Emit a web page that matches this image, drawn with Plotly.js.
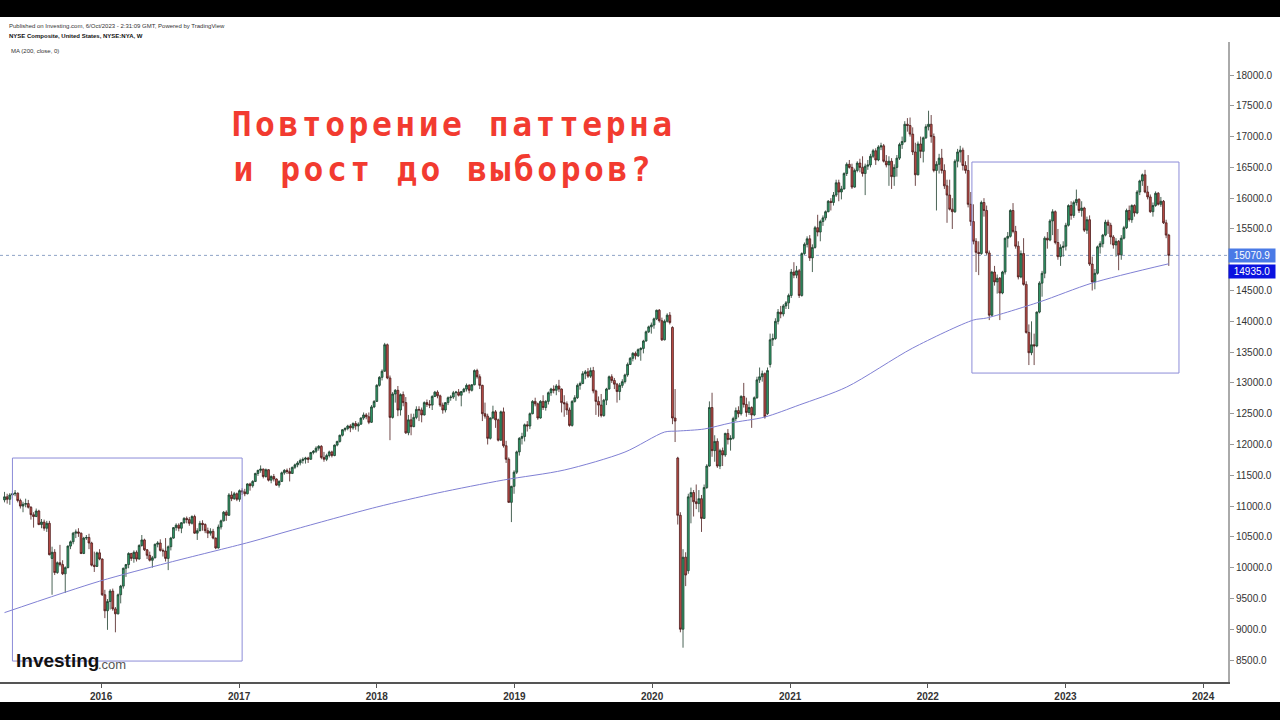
<!DOCTYPE html>
<html>
<head>
<meta charset="utf-8">
<script src="https://cdn.plot.ly/plotly-3.0.1.min.js"></script>
<style>
  html, body { margin: 0; padding: 0; background: #000; width: 1280px; height: 720px; overflow: hidden; }
  #chart { position: absolute; left: 0; top: 17px; width: 1280px; height: 685px; background: #fff; }
  .annotation[data-index="0"] text, .annotation[data-index="1"] text { letter-spacing: 3.5px; }
</style>
</head>
<body>
<div id="chart"></div>
<script>
// Weekly NYSE Composite (NYSE:NYA, W) candles, first week starting 2015-04-20
const firstWeek = '2015-04-20';

const open = [
// 2015
11100,11150,11110,11180,11200,11210,11090,11000,11030,11040,10980,10860,10830,10920,10700,10740,10640,10720,10150,10250,9920,10080,10050,9900,10000,10350,10420,10560,10580,10560,10230,10480,10490,10400,10040,10020,10240,
// 2016
10140,9560,9300,9450,9620,9330,9250,9560,9700,9990,10050,10230,10150,10250,10140,10360,10450,10290,10200,10120,10160,10380,10400,10280,10270,10150,10340,10480,10650,10690,10640,10730,10800,10780,10720,10830,10560,10600,10720,10700,10600,10560,10590,10480,10320,10660,10760,10900,10850,11180,11120,11200,
// 2017
11110,11250,11230,11200,11360,11330,11400,11530,11580,11600,11480,11590,11420,11480,11440,11340,11400,11540,11580,11560,11530,11630,11670,11700,11740,11760,11780,11760,11870,11890,11940,11970,11790,11760,11820,11880,11820,11990,12050,12150,12240,12260,12300,12270,12340,12300,12330,12430,12480,12450,12360,12610,
// 2018
12700,12960,13090,13190,13620,13080,12440,12820,12880,12560,12810,12680,12190,12400,12290,12440,12570,12560,12480,12680,12650,12640,12780,12850,12790,12640,12560,12680,12760,12770,12840,12850,12800,12860,12900,12960,12880,12970,13200,13100,12960,12500,12460,12100,12430,12530,12400,12070,12530,11980,11760,11060,11320,
// 2019
11550,11880,12100,12130,12320,12300,12500,12700,12660,12430,12700,12600,12700,12840,12900,12880,12950,12900,12680,12660,12560,12310,12700,12760,12960,12990,13150,13180,13110,13200,12870,12700,12640,12470,12720,12900,13100,13040,12980,12860,12960,13020,13130,13300,13400,13480,13440,13540,13560,13680,13830,13910,
// 2020
13940,14040,14180,14010,13700,14000,14100,13900,12430,11780,10850,9000,10170,9950,11150,11220,11070,11040,11120,10800,11300,11650,12600,11900,12050,11650,11900,11830,12180,12080,12100,12420,12550,12500,12780,12650,12520,12600,12480,12760,13050,13100,13150,12500,13300,13700,13720,14000,14150,14120,14250,14300,
// 2021
14420,14800,14750,14820,14420,15100,15250,15340,15030,15200,15520,15450,15620,15680,15780,15950,15930,16050,16250,16100,16150,16400,16550,16500,16180,16450,16570,16500,16400,16520,16540,16680,16770,16620,16830,16850,16600,16540,16600,16350,16500,16650,16870,16920,17200,17180,17040,16750,16380,16880,16760,16980,
// 2022
17160,17200,17000,16450,16550,16650,16450,16200,16050,15820,15780,16600,16750,16780,16530,16450,15900,15620,15300,15120,15100,15930,15800,15110,14100,14800,14640,14700,14460,14800,15350,15380,15800,15460,15220,14720,15100,14600,13820,13490,13620,13600,14150,14620,14780,15350,15320,15630,15780,15280,15050,15200,
// 2023
15220,15560,15880,15720,15930,15980,15800,15840,15480,15650,14930,14640,14780,15210,15260,15400,15610,15560,15370,15240,15300,15080,15350,15520,15800,15650,15880,15760,16100,16280,16380,16100,16020,15780,15880,16080,15900,15950,15600,15400
];

const high = [
// 2015
11230,11200,11210,11250,11260,11220,11120,11070,11120,11100,11000,10900,10960,10940,10790,10780,10760,10760,10340,10300,10100,10370,10120,10020,10360,10440,10580,10620,10640,10570,10500,10530,10550,10420,10260,10260,10300,
// 2016
10150,9640,9490,9650,9660,9360,9580,9720,10000,10060,10250,10240,10280,10280,10380,10530,10470,10300,10260,10190,10390,10430,10460,10310,10480,10360,10500,10660,10720,10720,10740,10820,10830,10820,10850,10860,10640,10760,10770,10720,10650,10640,10630,10490,10700,10780,10920,10930,11210,11240,11230,11220,
// 2017
11270,11290,11280,11370,11380,11420,11540,11590,11660,11610,11610,11600,11500,11520,11450,11420,11560,11600,11610,11620,11640,11690,11730,11770,11790,11800,11800,11880,11910,11970,11990,11990,11880,11850,11900,11900,12000,12060,12160,12250,12280,12320,12330,12360,12380,12360,12440,12520,12510,12520,12640,12720,
// 2018
12980,13110,13220,13650,13640,13120,12850,12900,12950,12830,12860,12770,12480,12500,12500,12620,12620,12600,12700,12730,12720,12800,12870,12880,12810,12680,12690,12780,12800,12870,12870,12900,12870,12920,12990,12980,12980,13220,13230,13140,12970,12680,12500,12440,12630,12560,12420,12550,12600,12060,11790,11330,11580,
// 2019
11900,12120,12190,12340,12380,12520,12720,12760,12680,12720,12800,12720,12860,12920,12960,12980,13050,12910,12800,12700,12600,12720,12800,12990,13020,13190,13210,13240,13250,13260,12890,12780,12820,12740,12920,13120,13140,13080,13000,13000,13060,13150,13330,13420,13500,13510,13560,13580,13700,13850,13930,13980,
// 2020
14060,14190,14200,14060,14030,14130,14150,13920,12900,11800,10900,10300,10250,11200,11300,11260,11350,11260,11180,11350,11680,12700,12840,12150,12100,11930,11950,12190,12250,12150,12450,12600,12620,12800,13000,12760,12700,12620,12780,13100,13250,13200,13170,13250,13800,13800,14050,14200,14250,14280,14330,14450,
// 2021
14850,14960,14900,14850,15120,15280,15380,15400,15250,15550,15730,15650,15720,15800,15970,16000,16100,16300,16300,16200,16420,16580,16620,16560,16480,16600,16640,16680,16560,16620,16720,16800,16810,16860,16900,16880,16700,16680,16650,16550,16700,16900,17000,17250,17300,17310,17150,16900,16920,17000,17000,17200,
// 2022
17420,17350,17050,16600,16720,16800,16550,16300,16300,16000,16630,16800,16850,16820,16600,16700,16100,15900,15350,15300,15960,16000,15880,15150,14820,14900,14760,14720,14820,15360,15450,15820,15920,15550,15300,15150,15350,14650,13950,14000,13800,14160,14650,14820,15380,15450,15660,15820,15800,15500,15250,15300,
// 2023
15600,15900,15950,15960,16140,16000,15950,15860,15700,15720,15050,14850,15230,15300,15420,15650,15650,15600,15400,15350,15320,15400,15550,15830,15880,15900,15900,16130,16300,16400,16460,16200,16060,15930,16110,16100,16020,15970,15650,15420
];

const low = [
// 2015
11060,11040,11020,11130,11160,11060,10960,10900,10980,10960,10780,10650,10820,10690,10640,10600,10580,10200,9560,9880,9900,10020,9880,9590,9990,10300,10380,10480,10500,10220,10220,10450,10300,10020,9930,10010,10120,
// 2016
9540,9180,8990,9320,9300,8950,9240,9420,9660,9850,9990,10110,10080,10100,10130,10340,10270,10140,10100,10000,10150,10330,10260,10180,10100,9960,10280,10470,10600,10590,10560,10710,10720,10680,10700,10550,10450,10590,10600,10560,10480,10520,10460,10300,10310,10620,10750,10760,10840,11080,11100,11080,
// 2017
11070,11180,11160,11190,11250,11300,11390,11490,11540,11450,11460,11400,11370,11400,11330,11300,11390,11510,11520,11400,11520,11600,11630,11660,11690,11690,11700,11750,11840,11860,11900,11760,11720,11730,11790,11790,11810,11970,12030,12130,12210,12230,12200,12240,12240,12210,12320,12400,12410,12330,12350,12590,
// 2018
12690,12940,13040,13180,13060,12070,12420,12680,12460,12470,12620,12170,12150,12150,12280,12410,12380,12360,12470,12610,12590,12560,12770,12750,12610,12500,12520,12640,12710,12740,12710,12780,12620,12840,12860,12830,12860,12960,13070,12900,12380,12420,12000,12080,12410,12270,12050,12060,11950,11700,11050,10740,11200,
// 2019
11520,11820,12000,12050,12210,12250,12490,12620,12400,12420,12560,12550,12650,12790,12830,12800,12850,12520,12450,12480,12290,12290,12680,12740,12890,12980,13060,13080,13080,12830,12480,12450,12440,12450,12640,12890,13000,12900,12680,12720,12920,12990,13100,13290,13350,13380,13420,13360,13480,13670,13810,13800,
// 2020
13880,14020,13980,13680,13690,13980,13950,12330,12040,10700,8950,8700,9700,9900,10720,10830,10950,10900,10580,10790,11280,11640,11800,11720,11620,11600,11650,11800,12000,11900,12080,12380,12440,12470,12600,12450,12480,12270,12460,12740,13000,13020,12420,12480,13250,13600,13700,13950,14050,14080,14200,14200,
// 2021
14380,14700,14700,14380,14400,15080,15200,14980,14800,15180,15380,15300,15550,15640,15770,15800,15880,16020,15950,15980,16140,16360,16480,16150,16170,16420,16420,16350,16050,16460,16500,16650,16540,16600,16780,16580,16500,16200,16150,16200,16350,16620,16800,16900,17080,17000,16700,16200,16370,16650,16580,16960,
// 2022
17100,16900,16420,15800,16400,16400,16150,15600,15800,15500,15760,16500,16580,16450,16400,15850,15550,15250,14800,14750,15080,15700,15080,14020,14080,14580,14450,14020,14440,14760,15200,15360,15430,15180,14680,14700,14580,13800,13290,13450,13290,13580,14130,14400,14700,15180,15300,15400,15250,15000,14900,15050,
// 2023
15150,15540,15650,15680,15880,15760,15700,15450,15420,14900,14500,14520,14760,15100,15200,15380,15420,15250,15180,15050,14830,15000,15330,15500,15620,15600,15700,15740,16050,16200,16080,15980,15760,15700,15860,15880,15860,15580,15350,14900
];

const close = [
// 2015
11150,11110,11180,11200,11210,11090,11000,11030,11040,10980,10860,10830,10920,10700,10740,10640,10720,10210,10250,9920,10080,10050,9900,10000,10350,10420,10560,10580,10560,10230,10480,10490,10400,10040,10020,10240,10140,
// 2016
9560,9300,9450,9620,9330,9250,9560,9700,9990,10050,10230,10150,10250,10140,10360,10450,10290,10200,10120,10160,10380,10400,10280,10270,10150,10340,10480,10650,10690,10640,10730,10800,10780,10720,10830,10560,10600,10720,10700,10600,10560,10590,10480,10320,10660,10760,10900,10850,11180,11120,11200,11110,
// 2017
11250,11230,11200,11360,11330,11400,11530,11580,11600,11480,11590,11420,11480,11440,11340,11400,11540,11580,11560,11530,11630,11670,11700,11740,11760,11780,11760,11870,11890,11940,11970,11790,11760,11820,11880,11820,11990,12050,12150,12240,12260,12300,12270,12340,12300,12330,12430,12480,12450,12360,12610,12700,
// 2018
12960,13090,13190,13620,13080,12440,12820,12880,12560,12810,12680,12190,12400,12290,12440,12570,12560,12480,12680,12650,12640,12780,12850,12790,12640,12560,12680,12760,12770,12840,12850,12800,12860,12900,12960,12880,12970,13200,13100,12960,12500,12460,12100,12430,12530,12400,12070,12530,11980,11760,11060,11320,11550,
// 2019
11880,12100,12130,12320,12300,12500,12700,12660,12430,12700,12600,12700,12840,12900,12880,12950,12900,12680,12660,12560,12310,12700,12760,12960,12990,13150,13180,13110,13200,12870,12700,12640,12470,12720,12900,13100,13040,12980,12860,12960,13020,13130,13300,13400,13480,13440,13540,13560,13680,13830,13910,13940,
// 2020
14040,14180,14010,13700,14000,14100,13980,12430,12380,10850,9000,10170,9880,11150,11220,11070,11040,11120,10800,11300,11650,12600,11900,12050,11650,11900,11830,12180,12080,12100,12420,12550,12500,12780,12650,12520,12600,12480,12760,13050,13100,13150,12450,13200,13700,13720,14000,14150,14120,14250,14300,14420,
// 2021
14800,14750,14820,14420,15100,15250,15340,15030,15200,15520,15450,15620,15680,15780,15950,15930,16050,16250,16100,16150,16400,16550,16500,16180,16450,16570,16500,16400,16520,16540,16680,16770,16620,16830,16850,16600,16540,16600,16350,16500,16650,16870,16920,17200,17180,17040,16750,16380,16880,16760,16980,17160,
// 2022
17200,17000,16450,16550,16650,16450,16200,16050,15820,15780,16600,16750,16780,16530,16450,15900,15620,15300,15120,15100,15930,15800,15110,14100,14800,14640,14700,14460,14800,15350,15380,15800,15460,15220,14720,15100,14600,13820,13490,13620,13600,14150,14620,14780,15350,15320,15630,15780,15280,15050,15200,15220,
// 2023
15560,15880,15720,15930,15980,15800,15840,15480,15650,14930,14640,14780,15210,15260,15400,15610,15560,15370,15240,15300,15080,15350,15520,15800,15650,15880,15760,16100,16280,16380,16100,16020,15780,15880,16080,15900,15950,15600,15400,15071
];

// MA (200, close)
const maDates = ['2015-04-20','2015-12-28','2016-06-27','2017-01-30','2017-05-22','2018-01-01','2018-06-11','2018-12-03','2019-05-13','2019-10-21','2020-02-03','2020-03-09','2020-05-18','2020-07-27','2020-10-26','2021-01-25','2021-05-31','2021-11-22','2022-05-02','2022-06-06','2022-10-24','2023-03-13','2023-10-02'];
const maValues = [9270,9780,10080,10416,10611,10984,11212,11423,11585,11877,12202,12218,12251,12349,12446,12641,12933,13566,14021,14054,14314,14622,14935];

const yearTicks = ['2016','2017','2018','2019','2020','2021','2022','2023','2024'];
// 15000.0 is hidden behind the price labels in the reference
const priceTicks = [8500,9000,9500,10000,10500,11000,11500,12000,12500,13000,13500,14000,14500,15500,16000,16500,17000,17500,18000];
const lastPrice = 15070.9;
const lastMA = 14935.0;

// weekly dates from firstWeek
const d0 = Date.parse(firstWeek + 'T00:00:00Z');
const dates = close.map((_, i) => new Date(d0 + i * 7 * 86400000).toISOString().slice(0, 10));
if (open.length !== close.length || high.length !== close.length || low.length !== close.length) {
  console.error('length mismatch', open.length, high.length, low.length, close.length);
}

const candles = {
  type: 'candlestick',
  x: dates, open: open, high: high, low: low, close: close,
  increasing: { line: { color: '#1d3d2c', width: 0.8 }, fillcolor: '#2f9e6b' },
  decreasing: { line: { color: '#4d1c1c', width: 0.8 }, fillcolor: '#c24f49' },
  whiskerwidth: 0,
  hoverinfo: 'skip',
  showlegend: false
};

const ma = {
  type: 'scatter', mode: 'lines',
  x: maDates, y: maValues,
  line: { color: '#8080d4', width: 1, shape: 'spline', smoothing: 0.8 },
  hoverinfo: 'skip', showlegend: false
};

const FONT = 'Liberation Sans, Arial, sans-serif';
const MONO = 'DejaVu Sans Mono, monospace';

const layout = {
  width: 1280, height: 685,
  margin: { l: 0, r: 52, t: 25, b: 20 },
  paper_bgcolor: '#ffffff', plot_bgcolor: '#ffffff',
  font: { family: FONT, color: '#333' },
  showlegend: false,
  hovermode: false,
  boxgap: 0.3, boxgroupgap: 0,
  xaxis: {
    type: 'date',
    range: ['2015-04-08', '2024-03-07'],
    tickvals: yearTicks.map(y => y + '-01-01'),
    ticktext: yearTicks,
    tickfont: { family: FONT, size: 10, color: '#333', weight: 'bold' },
    ticks: 'outside', ticklen: 4, tickcolor: '#555',
    showline: true, linecolor: '#555', linewidth: 1.5,
    showgrid: false, zeroline: false,
    rangeslider: { visible: false },
    fixedrange: true
  },
  yaxis: {
    side: 'right',
    range: [8143, 18536],
    tickvals: priceTicks,
    ticktext: priceTicks.map(v => v.toFixed(1)),
    tickfont: { family: FONT, size: 10, color: '#333' },
    ticks: 'outside', ticklen: 4, tickcolor: '#999',
    showline: true, linecolor: '#aaaaaa', linewidth: 2,
    showgrid: false, zeroline: false,
    fixedrange: true
  },
  shapes: [
    { type: 'line', xref: 'paper', yref: 'y', x0: 0, x1: 1, y0: lastPrice, y1: lastPrice,
      line: { color: '#8fa3c6', width: 1, dash: 'dot' }, layer: 'below' },
    { type: 'rect', xref: 'x', yref: 'y', x0: '2015-05-11', x1: '2017-01-09', y0: 8483, y1: 11780,
      line: { color: '#8c8cd8', width: 1 }, fillcolor: 'rgba(0,0,0,0)', layer: 'above' },
    { type: 'rect', xref: 'x', yref: 'y', x0: '2022-04-28', x1: '2023-10-29', y0: 13160, y1: 16587,
      line: { color: '#8c8cd8', width: 1 }, fillcolor: 'rgba(0,0,0,0)', layer: 'above' }
  ],
  annotations: [
    { xref: 'paper', yref: 'paper', x: 0.2142, y: 0.8711, xanchor: 'left', yanchor: 'middle', showarrow: false,
      text: '<b>Повторение паттерна</b>', font: { family: MONO, size: 33, color: '#f23b30' } },
    { xref: 'paper', yref: 'paper', x: 0.2142, y: 0.800, xanchor: 'left', yanchor: 'middle', showarrow: false,
      text: '<b>и рост до выборов?</b>', font: { family: MONO, size: 33, color: '#f23b30' } },
    { xref: 'paper', yref: 'paper', x: 0.0057, y: 1.025, xanchor: 'left', yanchor: 'middle', showarrow: false,
      text: 'Published on Investing.com, 6/Oct/2023 - 2:31:09 GMT, Powered by TradingView',
      font: { family: FONT, size: 6, color: '#333' } },
    { xref: 'paper', yref: 'paper', x: 0.0057, y: 1.0094, xanchor: 'left', yanchor: 'middle', showarrow: false,
      text: '<b>NYSE Composite, United States, NYSE:NYA, W</b>',
      font: { family: FONT, size: 6, color: '#111' } },
    { xref: 'paper', yref: 'paper', x: 0.0073, y: 0.9859, xanchor: 'left', yanchor: 'middle', showarrow: false,
      text: 'MA (200, close, 0)', font: { family: FONT, size: 6, color: '#333' } },
    { xref: 'paper', yref: 'paper', x: 0.0115, y: 0.033, xanchor: 'left', yanchor: 'middle', showarrow: false,
      text: '<b>Investing</b>', font: { family: FONT, size: 19, color: '#111' } },
    { xref: 'paper', yref: 'paper', x: 0.0785, y: 0.028, xanchor: 'left', yanchor: 'middle', showarrow: false,
      text: '.com', font: { family: FONT, size: 13, color: '#555' } },
    { xref: 'paper', yref: 'y', x: 1, y: lastPrice, xanchor: 'left', yanchor: 'middle', showarrow: false,
      text: lastPrice.toFixed(1), font: { family: FONT, size: 10, color: '#ffffff' },
      bgcolor: '#4a7ae6', width: 44, height: 11, borderpad: 1, align: 'center' },
    { xref: 'paper', yref: 'y', x: 1, y: lastMA, yshift: -8, xanchor: 'left', yanchor: 'middle', showarrow: false,
      text: lastMA.toFixed(1), font: { family: FONT, size: 10, color: '#ffffff' },
      bgcolor: '#0b12e0', width: 44, height: 11, borderpad: 1, align: 'center' }
  ]
};

Plotly.newPlot('chart', [ma, candles], layout, { staticPlot: true, displayModeBar: false });
</script>
</body>
</html>
